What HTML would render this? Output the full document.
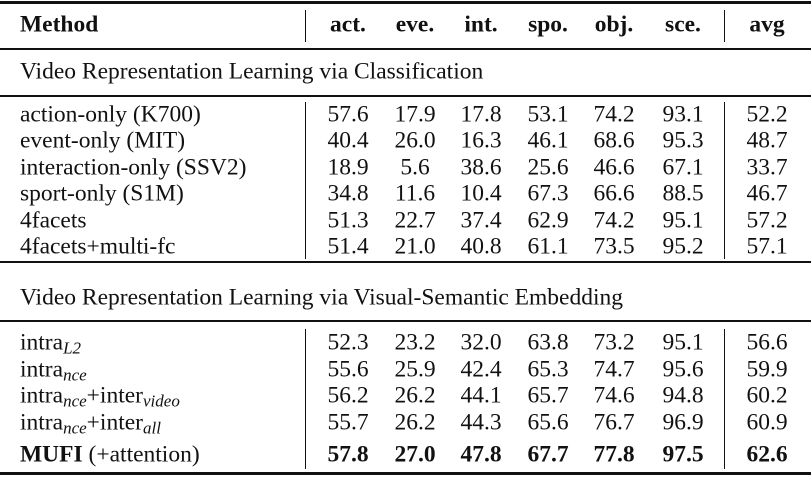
<!DOCTYPE html>
<html><head><meta charset="utf-8"><style>
body{margin:0;background:#fff;}
#c{position:relative;width:811px;height:481px;font-family:"Liberation Serif",serif;font-size:23.5px;color:#111;}
.t{position:absolute;white-space:nowrap;transform:translate(-50%,-50%);line-height:1;}
.l{position:absolute;white-space:nowrap;transform:translateY(-50%);line-height:1;left:20px;}
.h{position:absolute;left:0;width:811px;background:#111;}
.v{position:absolute;width:1px;background:#111;}
b{font-weight:bold;}
sub{font-style:italic;font-size:17px;vertical-align:-4px;line-height:0;}
</style></head><body><div id="c">
<div class="h" style="top:1px;height:3px"></div>
<div class="h" style="top:48px;height:2px"></div>
<div class="h" style="top:95px;height:2px"></div>
<div class="h" style="top:261px;height:2px"></div>
<div class="h" style="top:320px;height:2px"></div>
<div class="h" style="top:472px;height:3px"></div>
<div class="v" style="left:305px;top:10px;height:32px"></div>
<div class="v" style="left:724px;top:10px;height:32px"></div>
<div class="v" style="left:305px;top:102px;height:157px"></div>
<div class="v" style="left:724px;top:102px;height:157px"></div>
<div class="v" style="left:305px;top:329px;height:140px"></div>
<div class="v" style="left:724px;top:329px;height:140px"></div>
</div>
<script>
var c=document.getElementById('c');
var xs=[348,415,481,548,614,683,767];
function add(cls,x,y,html){var d=document.createElement('div');d.className=cls;if(x!=null)d.style.left=x+'px';d.style.top=y+'px';d.innerHTML=html;c.appendChild(d);}
add('l',null,25,'<b>Method</b>');
['act.','eve.','int.','spo.','obj.','sce.','avg'].forEach(function(s,i){add('t',xs[i],25,'<b>'+s+'</b>');});
add('l',null,72,'Video Representation Learning via Classification');
add('l',null,298,'Video Representation Learning via Visual-Semantic Embedding');
var rows=[
[115,'action-only (K700)','57.6 17.9 17.8 53.1 74.2 93.1 52.2'],
[141,'event-only (MIT)','40.4 26.0 16.3 46.1 68.6 95.3 48.7'],
[168,'interaction-only (SSV2)','18.9 5.6 38.6 25.6 46.6 67.1 33.7'],
[194,'sport-only (S1M)','34.8 11.6 10.4 67.3 66.6 88.5 46.7'],
[221,'4facets','51.3 22.7 37.4 62.9 74.2 95.1 57.2'],
[247,'4facets+multi-fc','51.4 21.0 40.8 61.1 73.5 95.2 57.1'],
[343,'intra<sub>L2</sub>','52.3 23.2 32.0 63.8 73.2 95.1 56.6'],
[370,'intra<sub>nce</sub>','55.6 25.9 42.4 65.3 74.7 95.6 59.9'],
[396,'intra<sub>nce</sub>+inter<sub>video</sub>','56.2 26.2 44.1 65.7 74.6 94.8 60.2'],
[423,'intra<sub>nce</sub>+inter<sub>all</sub>','55.7 26.2 44.3 65.6 76.7 96.9 60.9'],
[455,'<b>MUFI</b> (+attention)','57.8 27.0 47.8 67.7 77.8 97.5 62.6',1]];
rows.forEach(function(r){add('l',null,r[0],r[1]);r[2].split(' ').forEach(function(v,i){add('t',xs[i],r[0],r[3]?'<b>'+v+'</b>':v);});});
</script>
</body></html>
